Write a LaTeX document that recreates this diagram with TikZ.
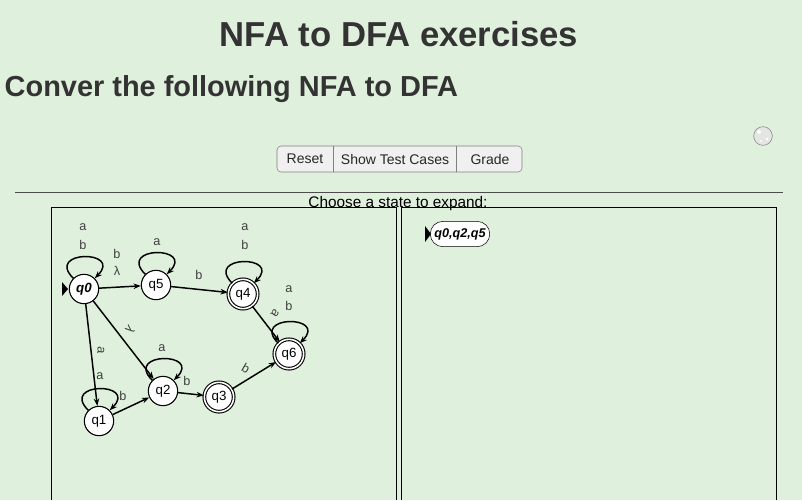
\documentclass[tikz,border=0pt]{standalone}
\usepackage{fontspec}
\setmainfont{Liberation Sans}
\usetikzlibrary{arrows.meta,shapes.misc}
\definecolor{bg}{HTML}{DFF0DC}
\definecolor{ttl}{HTML}{333333}
\begin{document}
\begin{tikzpicture}[x=0.75pt,y=-0.75pt,
  st/.style={circle,draw,thick,fill=white,minimum size=22pt,inner sep=0pt,font=\fontsize{10}{10}\selectfont},
  acc/.style={st,double,double distance=1.2pt},
  lbl/.style={font=\fontsize{9.5}{10}\selectfont,text=black!75},
  tr/.style={-{Stealth[length=5.5pt]},line width=1.1pt},
  lp/.style={tr,looseness=4.8,out=135,in=45},
  btn/.style={minimum height=19.5pt,font=\fontsize{10.5}{11}\selectfont,text=black!85}]
\fill[bg] (0,0) rectangle (802,500);
\useasboundingbox (0,0) rectangle (802,500);
\node[font=\fontsize{26}{26}\selectfont\bfseries,text=ttl] (title) at (399,34) {NFA to DFA exercises};
\node[font=\fontsize{21.7}{22}\selectfont\bfseries,text=ttl,anchor=west] (sub) at (0,89) {Conver the following NFA to DFA};
% buttons
\draw[draw=black!50,fill=black!6,rounded corners=3pt] (277,146) rectangle (522,172);
\draw[black!50] (333,146) -- (333,172) (456,146) -- (456,172);
\node[btn] (b1) at (305,159) {Reset};
\node[btn] (b2) at (395,159) {Show Test Cases};
\node[btn] (b3) at (490,159) {Grade};
% globe
\node[circle,draw=black!50,fill=black!10,minimum size=14pt,inner sep=0pt] (globe) at (763,136) {};
\fill[white] (759,132) circle (2) (767,139) circle (1.5) (761,141) circle (1.2);
\draw[black!70] (15,192) -- (783,192);
\draw[thin] (51,207) -- (396,207) (51,207) -- (51,500) (396,207) -- (396,500);
\draw[thin] (401,207) -- (776,207) (401,207) -- (401,500) (776,207) -- (776,500);
\node[font=\fontsize{11.5}{12}\selectfont] (choose) at (398,204) {Choose a state to expand:};
% NFA
\node[st,font=\fontsize{10}{10}\selectfont\bfseries\itshape] (q0) at (84,289) {q0};
\node[st] (q5) at (156,285) {q5};
\node[acc] (q4) at (243,294) {q4};
\node[acc] (q6) at (289,354) {q6};
\node[st] (q2) at (163,391) {q2};
\node[acc] (q3) at (219,397) {q3};
\node[st] (q1) at (99,421) {q1};
\fill (62,282) -- (68,289) -- (62,296) -- cycle;
\draw[lp] (q0) to (q0);
\draw[lp] (q5) to (q5);
\draw[lp] (q4) to (q4);
\draw[lp] (q6) to (q6);
\draw[lp] (q2) to (q2);
\draw[lp] (q1) to (q1);
\draw[tr] (q0) -- (q5);
\draw[tr] (q5) -- (q4);
\draw[tr] (q4) -- (q6);
\draw[tr] (q0) -- (q2);
\draw[tr] (q0) -- (q1);
\draw[tr] (q1) -- (q2);
\draw[tr] (q2) -- (q3);
\draw[tr] (q3) -- (q6);
\node[lbl] (l1) at (83,227) {a};
\node[lbl] (l2) at (83,245) {b};
\node[lbl] (l3) at (117,254) {b};
\node[lbl] (l4) at (117,271) {λ};
\node[lbl] (l5) at (157,242) {a};
\node[lbl] (l6) at (199,275) {b};
\node[lbl] (l7) at (245,227) {a};
\node[lbl] (l8) at (245,245) {b};
\node[lbl,rotate=-125] (l9) at (275,313) {a};
\node[lbl] (l10) at (289,289) {a};
\node[lbl] (l11) at (289,306) {b};
\node[lbl,rotate=-130] (l12) at (130,330) {λ};
\node[lbl,rotate=-95] (l13) at (101,350) {a};
\node[lbl] (l14) at (100,376) {a};
\node[lbl] (l15) at (123,396) {b};
\node[lbl] (l16) at (162,348) {a};
\node[lbl] (l17) at (187,381) {b};
\node[lbl,rotate=-30] (l18) at (246,368) {b};
% DFA
\node[rounded rectangle,draw,fill=white,minimum height=19pt,inner xsep=2pt,font=\fontsize{9.5}{10}\selectfont\bfseries\itshape] (d0) at (460,234) {q0,q2,q5};
\fill (425,226) -- (431,234) -- (425,242) -- cycle;
\end{tikzpicture}
\end{document}
